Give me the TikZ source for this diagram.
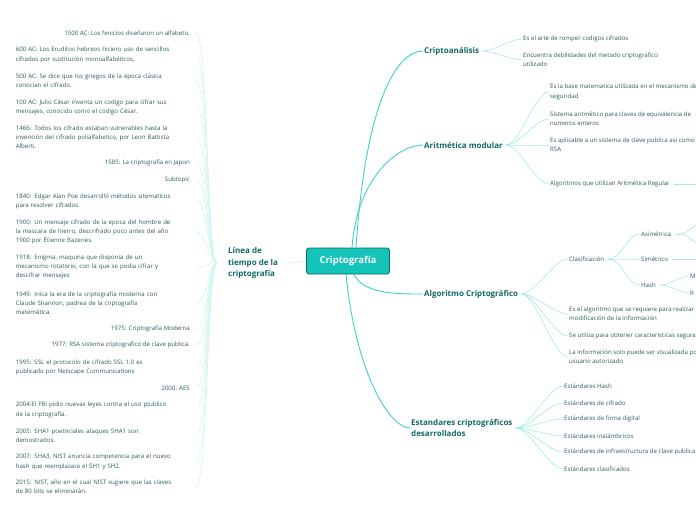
\documentclass[tikz,border=0pt]{standalone}
\usepackage{fontspec}
\setmainfont{Open Sans}
\definecolor{txt}{HTML}{2A5A5A}
\definecolor{btxt}{HTML}{0E6A66}
\definecolor{mainc}{HTML}{14C4B9}
\definecolor{mainb}{HTML}{0B6B66}
\definecolor{brl}{HTML}{3FD0C8}
\definecolor{lfl}{HTML}{A6E8E8}
\definecolor{tll}{HTML}{CFF5F5}
\tikzset{
 leaf/.style={font=\fontsize{6.1}{9.2}\selectfont, text=txt, inner sep=1pt, align=left},
 tl/.style={leaf, anchor=east},
 tlm/.style={leaf, anchor=east, text width=174pt},
 rl/.style={leaf, anchor=west},
 branch/.style={font=\bfseries\fontsize{8}{11.5}\selectfont, text=btxt, anchor=west, align=left, inner sep=1pt},
 bl/.style={draw=brl, line width=0.9pt},
 ll/.style={draw=lfl, line width=0.6pt},
 tline/.style={draw=tll, line width=0.6pt},
}
\begin{document}
\begin{tikzpicture}[x=1pt,y=-1pt]
\useasboundingbox (0,0) rectangle (696,520);
\clip (0,0) rectangle (696,520);
% center
\node[draw=mainb, fill=mainc, rounded corners=2.5pt, line width=0.8pt, minimum width=83pt, minimum height=26pt, text=white, font=\bfseries\fontsize{9.5}{11}\selectfont] (c) at (348,261) {Criptografía};
% timeline
\node[branch] (tl) at (227,263) {Línea de\\tiempo de la\\criptografía};
\coordinate (tlj) at (217,263);
\draw[tline] (c.west) -- ([xshift=6pt]tl.east);
\foreach \n/\y/\s/\t in {
 a/33/tl/{1500 AC: Los fenicios diseñaron un alfabeto.},
 b/55/tlm/{600 AC: Los Eruditos hebreos hiciero uso de sencillos\\cifrados por sustitución monoalfabéticos.},
 d/81/tlm/{500 AC: Se dice que los griegos de la época clásica\\conocían el cifrado.},
 e/107/tlm/{100 AC: Julio César inventa un codigo para cifrar sus\\mensajes, conocido como el codigo César.},
 f/137/tlm/{1466: Todos los cifrado estaban vulnerables hasta la\\invención del cifrado polialfabetico, por Leon Battista\\Alberti.},
 g/163/tl/{1585: La criptografía en Japon},
 h/180/tl/{Subtopic},
 i/201/tlm/{1840: Edgar Alan Poe desarrolló métodos sitematicos\\para resolver cifrados.},
 j/232/tlm/{1900: Un mensaje cifrado de la epoca del hombre de\\la mascara de hierro, descrifrado poco antes del año\\1900 por Étienne Bazeries.},
 k/267/tlm/{1918: Enigma, maquina que disponia de un\\mecanismo rotatorio, con la que se podia cifrar y\\descifrar mensajes},
 l/303/tlm/{1949: Inica la era de la criptografía moderna con\\Claude Shannon, padrea de la criptografía\\matemática.},
 m/329/tl/{1975: Criptografía Moderna},
 n/345/tl/{1977: RSA sistema criptografico de clave publica.},
 o/367/tlm/{1995: SSL el protocolo de cifrado SSL 1.0 es\\publicado por Netscape Communications},
 p/388/tl/{2000: AES},
 q/410/tlm/{2004:El FBI pidio nuevas leyes contra el uso p(ublico\\de la criptografía.},
 r/436/tlm/{2005: SHA1 poetnciales ataques SHA1 son\\demostrados.},
 s/462/tlm/{2007: SHA3, NIST anuncia competencia para el nuevo\\hash que reemplazara el SH1 y SH2.},
 t/487/tlm/{2015: NIST, año en el cual NIST sugiere que las claves\\de 80 bits se eliminarán.}}
{
 \node[\s] (t\n) at (191,\y) {\t};
 \draw[tline] (tlj) .. controls +(-10,0) and +(12,0) .. ([xshift=5pt]t\n.east);
}
% Criptoanalisis
\node[branch] (b1) at (423,51) {Criptoanálisis};
\draw[bl] (c.north) ++(8,0) .. controls +(10,-150) and +(-25,0) .. (b1.west);
\node[rl] (b1a) at (522,39) {Es el arte de romper codigos cifrados};
\node[rl] (b1b) at (522,60) {Encuentra debilidades del metodo criptografico\\utilizado};
\foreach \k in {b1a,b1b} \draw[ll] ([xshift=2pt]b1.east) .. controls +(12,0) and +(-12,0) .. (\k.west);
% Aritmetica
\node[branch] (b2) at (423,145) {Aritmética modular};
\draw[bl] (c.north) ++(4,0) .. controls +(5,-70) and +(-25,0) .. (b2.west);
\node[rl] (b2a) at (549,92) {Es la base matematica utilizada en el mecanismo de\\seguridad};
\node[rl] (b2b) at (549,119) {Sistema aritmético para claves de equivalencia de\\numeros enteros};
\node[rl] (b2c) at (549,145) {Es aplicable a un sistema de clave publica asi como\\RSA};
\node[rl] (b2d) at (549,184) {Algoritmos que utilizan Aritmética Regular};
\foreach \k in {b2a,b2b,b2c,b2d} \draw[ll] ([xshift=2pt]b2.east) .. controls +(14,0) and +(-14,0) .. (\k.west);
\coordinate (b2e) at (700,184);
\draw[ll] ([xshift=3pt]b2d.east) -- (b2e);
% Algoritmo
\node[branch] (b3) at (423,294) {Algoritmo Criptográfico};
\draw[bl] (c.south) ++(6,0) .. controls +(10,20) and +(-25,0) .. (b3.west);
\node[rl] (cl) at (568,259) {Clasificación};
\node[rl] (b3b) at (568,314) {Es el algoritmo que se requiere para realizar la\\modificación de la información};
\node[rl] (b3c) at (568,336) {Se utiliza para obtener caracteristicas seguras};
\node[rl] (b3d) at (568,357) {La información solo puede ser visualizada por el\\usuario autorizado};
\foreach \k in {cl,b3b,b3c,b3d} \draw[ll] ([xshift=2pt]b3.east) .. controls +(14,0) and +(-14,0) .. (\k.west);
\node[rl] (as) at (640,234) {Asimétrica};
\node[rl] (si) at (640,259) {Simétrico};
\node[rl] (ha) at (640,285) {Hash};
\foreach \k in {as,si,ha} \draw[ll] ([xshift=3pt]cl.east) .. controls +(14,0) and +(-14,0) .. (\k.west);
\coordinate (ase) at (680,234);
\coordinate (asu) at (700,224);
\coordinate (asd) at (700,244);
\draw[ll] ([xshift=3pt]as.east) -- (ase);
\draw[ll] (ase) .. controls +(8,0) and +(-6,0) .. (asu);
\draw[ll] (ase) .. controls +(8,0) and +(-6,0) .. (asd);
\coordinate (sie) at (700,259);
\draw[ll] ([xshift=3pt]si.east) -- (sie);
\node[rl] (hm) at (689,276) {M};
\node[rl] (hr) at (689,293) {R};
\foreach \k in {hm,hr} \draw[ll] ([xshift=3pt]ha.east) .. controls +(12,0) and +(-10,0) .. (\k.west);
% Estandares
\node[branch] (b4) at (410,428) {Estandares criptográficos\\desarrollados};
\draw[bl] (c.south) ++(-2,0) .. controls +(10,100) and +(-20,0) .. (b4.west);
\foreach \n/\y/\t in {a/386/{Estándares Hash}, b/403/{Estándares de cifrado}, c/419/{Estándares de firma digital}, d/436/{Estándares inalámbricos}, e/452/{Estándares de infraestructura de clave publica}, f/469/{Estándares clasificados}}
{
 \node[rl] (e\n) at (563,\y) {\t};
 \draw[ll] ([xshift=2pt]b4.east) .. controls +(14,0) and +(-14,0) .. (e\n.west);
}
\end{tikzpicture}
\end{document}
